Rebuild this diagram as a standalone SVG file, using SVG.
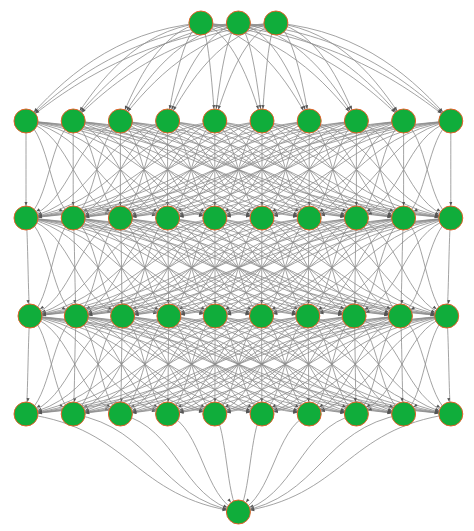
<svg xmlns="http://www.w3.org/2000/svg" width="474" height="531" viewBox="0 0 474 531">
<style>
.e{fill:none;stroke:#8c8c8c;stroke-width:0.8;marker-end:url(#a)}
.n{fill:#10ad3b;stroke:#e4602a;stroke-width:1}
</style>
<defs>
<marker id="a" viewBox="0 -3 21 6" refX="20.5" refY="0" markerWidth="21" markerHeight="6" markerUnits="userSpaceOnUse" orient="auto"><path d="M4.5,-1.5 L8.5,0 L4.5,1.5 z" fill="#555555"/></marker>
</defs>
<rect width="474" height="531" fill="#ffffff"/>
<g id="edges">
<path class="e" d="M200.9 23C113.45 31 60.98 81 26 121"/>
<path class="e" d="M200.9 23C137.05 31 98.74 81 73.2 121"/>
<path class="e" d="M200.9 23C160.65 31 136.5 81 120.4 121"/>
<path class="e" d="M200.9 23C184.25 31 174.26 81 167.6 121"/>
<path class="e" d="M200.9 23C207.85 31 212.02 81 214.8 121"/>
<path class="e" d="M200.9 23C231.45 31 249.78 81 262 121"/>
<path class="e" d="M200.9 23C255.05 31 287.54 81 309.2 121"/>
<path class="e" d="M200.9 23C278.65 31 325.3 81 356.4 121"/>
<path class="e" d="M200.9 23C302.25 31 363.06 81 403.6 121"/>
<path class="e" d="M200.9 23C325.85 31 400.82 81 450.8 121"/>
<path class="e" d="M238.4 23C132.2 31 68.48 81 26 121"/>
<path class="e" d="M238.4 23C155.8 31 106.24 81 73.2 121"/>
<path class="e" d="M238.4 23C179.4 31 144 81 120.4 121"/>
<path class="e" d="M238.4 23C203 31 181.76 81 167.6 121"/>
<path class="e" d="M238.4 23C226.6 31 219.52 81 214.8 121"/>
<path class="e" d="M238.4 23C250.2 31 257.28 81 262 121"/>
<path class="e" d="M238.4 23C273.8 31 295.04 81 309.2 121"/>
<path class="e" d="M238.4 23C297.4 31 332.8 81 356.4 121"/>
<path class="e" d="M238.4 23C321 31 370.56 81 403.6 121"/>
<path class="e" d="M238.4 23C344.6 31 408.32 81 450.8 121"/>
<path class="e" d="M275.9 23C150.95 31 75.98 81 26 121"/>
<path class="e" d="M275.9 23C174.55 31 113.74 81 73.2 121"/>
<path class="e" d="M275.9 23C198.15 31 151.5 81 120.4 121"/>
<path class="e" d="M275.9 23C221.75 31 189.26 81 167.6 121"/>
<path class="e" d="M275.9 23C245.35 31 227.02 81 214.8 121"/>
<path class="e" d="M275.9 23C268.95 31 264.78 81 262 121"/>
<path class="e" d="M275.9 23C292.55 31 302.54 81 309.2 121"/>
<path class="e" d="M275.9 23C316.15 31 340.3 81 356.4 121"/>
<path class="e" d="M275.9 23C339.75 31 378.06 81 403.6 121"/>
<path class="e" d="M275.9 23C363.35 31 415.82 81 450.8 121"/>

<path class="e" d="M26 121C26 136 26 203 26 218"/>
<path class="e" d="M26 121C49.6 136 49.6 203 73.2 218"/>
<path class="e" d="M26 121C73.2 136 73.2 203 120.4 218"/>
<path class="e" d="M26 121C96.8 136 96.8 203 167.6 218"/>
<path class="e" d="M26 121C120.4 136 120.4 203 214.8 218"/>
<path class="e" d="M26 121C144 136 144 203 262 218"/>
<path class="e" d="M26 121C167.6 136 167.6 203 309.2 218"/>
<path class="e" d="M26 121C191.2 136 191.2 203 356.4 218"/>
<path class="e" d="M26 121C214.8 136 214.8 203 403.6 218"/>
<path class="e" d="M26 121C238.4 136 238.4 203 450.8 218"/>
<path class="e" d="M73.2 121C49.6 136 49.6 203 26 218"/>
<path class="e" d="M73.2 121C73.2 136 73.2 203 73.2 218"/>
<path class="e" d="M73.2 121C96.8 136 96.8 203 120.4 218"/>
<path class="e" d="M73.2 121C120.4 136 120.4 203 167.6 218"/>
<path class="e" d="M73.2 121C144 136 144 203 214.8 218"/>
<path class="e" d="M73.2 121C167.6 136 167.6 203 262 218"/>
<path class="e" d="M73.2 121C191.2 136 191.2 203 309.2 218"/>
<path class="e" d="M73.2 121C214.8 136 214.8 203 356.4 218"/>
<path class="e" d="M73.2 121C238.4 136 238.4 203 403.6 218"/>
<path class="e" d="M73.2 121C262 136 262 203 450.8 218"/>
<path class="e" d="M120.4 121C73.2 136 73.2 203 26 218"/>
<path class="e" d="M120.4 121C96.8 136 96.8 203 73.2 218"/>
<path class="e" d="M120.4 121C120.4 136 120.4 203 120.4 218"/>
<path class="e" d="M120.4 121C144 136 144 203 167.6 218"/>
<path class="e" d="M120.4 121C167.6 136 167.6 203 214.8 218"/>
<path class="e" d="M120.4 121C191.2 136 191.2 203 262 218"/>
<path class="e" d="M120.4 121C214.8 136 214.8 203 309.2 218"/>
<path class="e" d="M120.4 121C238.4 136 238.4 203 356.4 218"/>
<path class="e" d="M120.4 121C262 136 262 203 403.6 218"/>
<path class="e" d="M120.4 121C285.6 136 285.6 203 450.8 218"/>
<path class="e" d="M167.6 121C96.8 136 96.8 203 26 218"/>
<path class="e" d="M167.6 121C120.4 136 120.4 203 73.2 218"/>
<path class="e" d="M167.6 121C144 136 144 203 120.4 218"/>
<path class="e" d="M167.6 121C167.6 136 167.6 203 167.6 218"/>
<path class="e" d="M167.6 121C191.2 136 191.2 203 214.8 218"/>
<path class="e" d="M167.6 121C214.8 136 214.8 203 262 218"/>
<path class="e" d="M167.6 121C238.4 136 238.4 203 309.2 218"/>
<path class="e" d="M167.6 121C262 136 262 203 356.4 218"/>
<path class="e" d="M167.6 121C285.6 136 285.6 203 403.6 218"/>
<path class="e" d="M167.6 121C309.2 136 309.2 203 450.8 218"/>
<path class="e" d="M214.8 121C120.4 136 120.4 203 26 218"/>
<path class="e" d="M214.8 121C144 136 144 203 73.2 218"/>
<path class="e" d="M214.8 121C167.6 136 167.6 203 120.4 218"/>
<path class="e" d="M214.8 121C191.2 136 191.2 203 167.6 218"/>
<path class="e" d="M214.8 121C214.8 136 214.8 203 214.8 218"/>
<path class="e" d="M214.8 121C238.4 136 238.4 203 262 218"/>
<path class="e" d="M214.8 121C262 136 262 203 309.2 218"/>
<path class="e" d="M214.8 121C285.6 136 285.6 203 356.4 218"/>
<path class="e" d="M214.8 121C309.2 136 309.2 203 403.6 218"/>
<path class="e" d="M214.8 121C332.8 136 332.8 203 450.8 218"/>
<path class="e" d="M262 121C144 136 144 203 26 218"/>
<path class="e" d="M262 121C167.6 136 167.6 203 73.2 218"/>
<path class="e" d="M262 121C191.2 136 191.2 203 120.4 218"/>
<path class="e" d="M262 121C214.8 136 214.8 203 167.6 218"/>
<path class="e" d="M262 121C238.4 136 238.4 203 214.8 218"/>
<path class="e" d="M262 121C262 136 262 203 262 218"/>
<path class="e" d="M262 121C285.6 136 285.6 203 309.2 218"/>
<path class="e" d="M262 121C309.2 136 309.2 203 356.4 218"/>
<path class="e" d="M262 121C332.8 136 332.8 203 403.6 218"/>
<path class="e" d="M262 121C356.4 136 356.4 203 450.8 218"/>
<path class="e" d="M309.2 121C167.6 136 167.6 203 26 218"/>
<path class="e" d="M309.2 121C191.2 136 191.2 203 73.2 218"/>
<path class="e" d="M309.2 121C214.8 136 214.8 203 120.4 218"/>
<path class="e" d="M309.2 121C238.4 136 238.4 203 167.6 218"/>
<path class="e" d="M309.2 121C262 136 262 203 214.8 218"/>
<path class="e" d="M309.2 121C285.6 136 285.6 203 262 218"/>
<path class="e" d="M309.2 121C309.2 136 309.2 203 309.2 218"/>
<path class="e" d="M309.2 121C332.8 136 332.8 203 356.4 218"/>
<path class="e" d="M309.2 121C356.4 136 356.4 203 403.6 218"/>
<path class="e" d="M309.2 121C380 136 380 203 450.8 218"/>
<path class="e" d="M356.4 121C191.2 136 191.2 203 26 218"/>
<path class="e" d="M356.4 121C214.8 136 214.8 203 73.2 218"/>
<path class="e" d="M356.4 121C238.4 136 238.4 203 120.4 218"/>
<path class="e" d="M356.4 121C262 136 262 203 167.6 218"/>
<path class="e" d="M356.4 121C285.6 136 285.6 203 214.8 218"/>
<path class="e" d="M356.4 121C309.2 136 309.2 203 262 218"/>
<path class="e" d="M356.4 121C332.8 136 332.8 203 309.2 218"/>
<path class="e" d="M356.4 121C356.4 136 356.4 203 356.4 218"/>
<path class="e" d="M356.4 121C380 136 380 203 403.6 218"/>
<path class="e" d="M356.4 121C403.6 136 403.6 203 450.8 218"/>
<path class="e" d="M403.6 121C214.8 136 214.8 203 26 218"/>
<path class="e" d="M403.6 121C238.4 136 238.4 203 73.2 218"/>
<path class="e" d="M403.6 121C262 136 262 203 120.4 218"/>
<path class="e" d="M403.6 121C285.6 136 285.6 203 167.6 218"/>
<path class="e" d="M403.6 121C309.2 136 309.2 203 214.8 218"/>
<path class="e" d="M403.6 121C332.8 136 332.8 203 262 218"/>
<path class="e" d="M403.6 121C356.4 136 356.4 203 309.2 218"/>
<path class="e" d="M403.6 121C380 136 380 203 356.4 218"/>
<path class="e" d="M403.6 121C403.6 136 403.6 203 403.6 218"/>
<path class="e" d="M403.6 121C427.2 136 427.2 203 450.8 218"/>
<path class="e" d="M450.8 121C238.4 136 238.4 203 26 218"/>
<path class="e" d="M450.8 121C262 136 262 203 73.2 218"/>
<path class="e" d="M450.8 121C285.6 136 285.6 203 120.4 218"/>
<path class="e" d="M450.8 121C309.2 136 309.2 203 167.6 218"/>
<path class="e" d="M450.8 121C332.8 136 332.8 203 214.8 218"/>
<path class="e" d="M450.8 121C356.4 136 356.4 203 262 218"/>
<path class="e" d="M450.8 121C380 136 380 203 309.2 218"/>
<path class="e" d="M450.8 121C403.6 136 403.6 203 356.4 218"/>
<path class="e" d="M450.8 121C427.2 136 427.2 203 403.6 218"/>
<path class="e" d="M450.8 121C450.8 136 450.8 203 450.8 218"/>

<path class="e" d="M26 218C28 233 28 301 30 316"/>
<path class="e" d="M26 218C51.15 233 51.15 301 76.3 316"/>
<path class="e" d="M26 218C74.3 233 74.3 301 122.6 316"/>
<path class="e" d="M26 218C97.45 233 97.45 301 168.9 316"/>
<path class="e" d="M26 218C120.6 233 120.6 301 215.2 316"/>
<path class="e" d="M26 218C143.75 233 143.75 301 261.5 316"/>
<path class="e" d="M26 218C166.9 233 166.9 301 307.8 316"/>
<path class="e" d="M26 218C190.05 233 190.05 301 354.1 316"/>
<path class="e" d="M26 218C213.2 233 213.2 301 400.4 316"/>
<path class="e" d="M26 218C236.35 233 236.35 301 446.7 316"/>
<path class="e" d="M73.2 218C51.6 233 51.6 301 30 316"/>
<path class="e" d="M73.2 218C74.75 233 74.75 301 76.3 316"/>
<path class="e" d="M73.2 218C97.9 233 97.9 301 122.6 316"/>
<path class="e" d="M73.2 218C121.05 233 121.05 301 168.9 316"/>
<path class="e" d="M73.2 218C144.2 233 144.2 301 215.2 316"/>
<path class="e" d="M73.2 218C167.35 233 167.35 301 261.5 316"/>
<path class="e" d="M73.2 218C190.5 233 190.5 301 307.8 316"/>
<path class="e" d="M73.2 218C213.65 233 213.65 301 354.1 316"/>
<path class="e" d="M73.2 218C236.8 233 236.8 301 400.4 316"/>
<path class="e" d="M73.2 218C259.95 233 259.95 301 446.7 316"/>
<path class="e" d="M120.4 218C75.2 233 75.2 301 30 316"/>
<path class="e" d="M120.4 218C98.35 233 98.35 301 76.3 316"/>
<path class="e" d="M120.4 218C121.5 233 121.5 301 122.6 316"/>
<path class="e" d="M120.4 218C144.65 233 144.65 301 168.9 316"/>
<path class="e" d="M120.4 218C167.8 233 167.8 301 215.2 316"/>
<path class="e" d="M120.4 218C190.95 233 190.95 301 261.5 316"/>
<path class="e" d="M120.4 218C214.1 233 214.1 301 307.8 316"/>
<path class="e" d="M120.4 218C237.25 233 237.25 301 354.1 316"/>
<path class="e" d="M120.4 218C260.4 233 260.4 301 400.4 316"/>
<path class="e" d="M120.4 218C283.55 233 283.55 301 446.7 316"/>
<path class="e" d="M167.6 218C98.8 233 98.8 301 30 316"/>
<path class="e" d="M167.6 218C121.95 233 121.95 301 76.3 316"/>
<path class="e" d="M167.6 218C145.1 233 145.1 301 122.6 316"/>
<path class="e" d="M167.6 218C168.25 233 168.25 301 168.9 316"/>
<path class="e" d="M167.6 218C191.4 233 191.4 301 215.2 316"/>
<path class="e" d="M167.6 218C214.55 233 214.55 301 261.5 316"/>
<path class="e" d="M167.6 218C237.7 233 237.7 301 307.8 316"/>
<path class="e" d="M167.6 218C260.85 233 260.85 301 354.1 316"/>
<path class="e" d="M167.6 218C284 233 284 301 400.4 316"/>
<path class="e" d="M167.6 218C307.15 233 307.15 301 446.7 316"/>
<path class="e" d="M214.8 218C122.4 233 122.4 301 30 316"/>
<path class="e" d="M214.8 218C145.55 233 145.55 301 76.3 316"/>
<path class="e" d="M214.8 218C168.7 233 168.7 301 122.6 316"/>
<path class="e" d="M214.8 218C191.85 233 191.85 301 168.9 316"/>
<path class="e" d="M214.8 218C215 233 215 301 215.2 316"/>
<path class="e" d="M214.8 218C238.15 233 238.15 301 261.5 316"/>
<path class="e" d="M214.8 218C261.3 233 261.3 301 307.8 316"/>
<path class="e" d="M214.8 218C284.45 233 284.45 301 354.1 316"/>
<path class="e" d="M214.8 218C307.6 233 307.6 301 400.4 316"/>
<path class="e" d="M214.8 218C330.75 233 330.75 301 446.7 316"/>
<path class="e" d="M262 218C146 233 146 301 30 316"/>
<path class="e" d="M262 218C169.15 233 169.15 301 76.3 316"/>
<path class="e" d="M262 218C192.3 233 192.3 301 122.6 316"/>
<path class="e" d="M262 218C215.45 233 215.45 301 168.9 316"/>
<path class="e" d="M262 218C238.6 233 238.6 301 215.2 316"/>
<path class="e" d="M262 218C261.75 233 261.75 301 261.5 316"/>
<path class="e" d="M262 218C284.9 233 284.9 301 307.8 316"/>
<path class="e" d="M262 218C308.05 233 308.05 301 354.1 316"/>
<path class="e" d="M262 218C331.2 233 331.2 301 400.4 316"/>
<path class="e" d="M262 218C354.35 233 354.35 301 446.7 316"/>
<path class="e" d="M309.2 218C169.6 233 169.6 301 30 316"/>
<path class="e" d="M309.2 218C192.75 233 192.75 301 76.3 316"/>
<path class="e" d="M309.2 218C215.9 233 215.9 301 122.6 316"/>
<path class="e" d="M309.2 218C239.05 233 239.05 301 168.9 316"/>
<path class="e" d="M309.2 218C262.2 233 262.2 301 215.2 316"/>
<path class="e" d="M309.2 218C285.35 233 285.35 301 261.5 316"/>
<path class="e" d="M309.2 218C308.5 233 308.5 301 307.8 316"/>
<path class="e" d="M309.2 218C331.65 233 331.65 301 354.1 316"/>
<path class="e" d="M309.2 218C354.8 233 354.8 301 400.4 316"/>
<path class="e" d="M309.2 218C377.95 233 377.95 301 446.7 316"/>
<path class="e" d="M356.4 218C193.2 233 193.2 301 30 316"/>
<path class="e" d="M356.4 218C216.35 233 216.35 301 76.3 316"/>
<path class="e" d="M356.4 218C239.5 233 239.5 301 122.6 316"/>
<path class="e" d="M356.4 218C262.65 233 262.65 301 168.9 316"/>
<path class="e" d="M356.4 218C285.8 233 285.8 301 215.2 316"/>
<path class="e" d="M356.4 218C308.95 233 308.95 301 261.5 316"/>
<path class="e" d="M356.4 218C332.1 233 332.1 301 307.8 316"/>
<path class="e" d="M356.4 218C355.25 233 355.25 301 354.1 316"/>
<path class="e" d="M356.4 218C378.4 233 378.4 301 400.4 316"/>
<path class="e" d="M356.4 218C401.55 233 401.55 301 446.7 316"/>
<path class="e" d="M403.6 218C216.8 233 216.8 301 30 316"/>
<path class="e" d="M403.6 218C239.95 233 239.95 301 76.3 316"/>
<path class="e" d="M403.6 218C263.1 233 263.1 301 122.6 316"/>
<path class="e" d="M403.6 218C286.25 233 286.25 301 168.9 316"/>
<path class="e" d="M403.6 218C309.4 233 309.4 301 215.2 316"/>
<path class="e" d="M403.6 218C332.55 233 332.55 301 261.5 316"/>
<path class="e" d="M403.6 218C355.7 233 355.7 301 307.8 316"/>
<path class="e" d="M403.6 218C378.85 233 378.85 301 354.1 316"/>
<path class="e" d="M403.6 218C402 233 402 301 400.4 316"/>
<path class="e" d="M403.6 218C425.15 233 425.15 301 446.7 316"/>
<path class="e" d="M450.8 218C240.4 233 240.4 301 30 316"/>
<path class="e" d="M450.8 218C263.55 233 263.55 301 76.3 316"/>
<path class="e" d="M450.8 218C286.7 233 286.7 301 122.6 316"/>
<path class="e" d="M450.8 218C309.85 233 309.85 301 168.9 316"/>
<path class="e" d="M450.8 218C333 233 333 301 215.2 316"/>
<path class="e" d="M450.8 218C356.15 233 356.15 301 261.5 316"/>
<path class="e" d="M450.8 218C379.3 233 379.3 301 307.8 316"/>
<path class="e" d="M450.8 218C402.45 233 402.45 301 354.1 316"/>
<path class="e" d="M450.8 218C425.6 233 425.6 301 400.4 316"/>
<path class="e" d="M450.8 218C448.75 233 448.75 301 446.7 316"/>

<path class="e" d="M30 316C28 331 28 399 26 414"/>
<path class="e" d="M30 316C51.6 331 51.6 399 73.2 414"/>
<path class="e" d="M30 316C75.2 331 75.2 399 120.4 414"/>
<path class="e" d="M30 316C98.8 331 98.8 399 167.6 414"/>
<path class="e" d="M30 316C122.4 331 122.4 399 214.8 414"/>
<path class="e" d="M30 316C146 331 146 399 262 414"/>
<path class="e" d="M30 316C169.6 331 169.6 399 309.2 414"/>
<path class="e" d="M30 316C193.2 331 193.2 399 356.4 414"/>
<path class="e" d="M30 316C216.8 331 216.8 399 403.6 414"/>
<path class="e" d="M30 316C240.4 331 240.4 399 450.8 414"/>
<path class="e" d="M76.3 316C51.15 331 51.15 399 26 414"/>
<path class="e" d="M76.3 316C74.75 331 74.75 399 73.2 414"/>
<path class="e" d="M76.3 316C98.35 331 98.35 399 120.4 414"/>
<path class="e" d="M76.3 316C121.95 331 121.95 399 167.6 414"/>
<path class="e" d="M76.3 316C145.55 331 145.55 399 214.8 414"/>
<path class="e" d="M76.3 316C169.15 331 169.15 399 262 414"/>
<path class="e" d="M76.3 316C192.75 331 192.75 399 309.2 414"/>
<path class="e" d="M76.3 316C216.35 331 216.35 399 356.4 414"/>
<path class="e" d="M76.3 316C239.95 331 239.95 399 403.6 414"/>
<path class="e" d="M76.3 316C263.55 331 263.55 399 450.8 414"/>
<path class="e" d="M122.6 316C74.3 331 74.3 399 26 414"/>
<path class="e" d="M122.6 316C97.9 331 97.9 399 73.2 414"/>
<path class="e" d="M122.6 316C121.5 331 121.5 399 120.4 414"/>
<path class="e" d="M122.6 316C145.1 331 145.1 399 167.6 414"/>
<path class="e" d="M122.6 316C168.7 331 168.7 399 214.8 414"/>
<path class="e" d="M122.6 316C192.3 331 192.3 399 262 414"/>
<path class="e" d="M122.6 316C215.9 331 215.9 399 309.2 414"/>
<path class="e" d="M122.6 316C239.5 331 239.5 399 356.4 414"/>
<path class="e" d="M122.6 316C263.1 331 263.1 399 403.6 414"/>
<path class="e" d="M122.6 316C286.7 331 286.7 399 450.8 414"/>
<path class="e" d="M168.9 316C97.45 331 97.45 399 26 414"/>
<path class="e" d="M168.9 316C121.05 331 121.05 399 73.2 414"/>
<path class="e" d="M168.9 316C144.65 331 144.65 399 120.4 414"/>
<path class="e" d="M168.9 316C168.25 331 168.25 399 167.6 414"/>
<path class="e" d="M168.9 316C191.85 331 191.85 399 214.8 414"/>
<path class="e" d="M168.9 316C215.45 331 215.45 399 262 414"/>
<path class="e" d="M168.9 316C239.05 331 239.05 399 309.2 414"/>
<path class="e" d="M168.9 316C262.65 331 262.65 399 356.4 414"/>
<path class="e" d="M168.9 316C286.25 331 286.25 399 403.6 414"/>
<path class="e" d="M168.9 316C309.85 331 309.85 399 450.8 414"/>
<path class="e" d="M215.2 316C120.6 331 120.6 399 26 414"/>
<path class="e" d="M215.2 316C144.2 331 144.2 399 73.2 414"/>
<path class="e" d="M215.2 316C167.8 331 167.8 399 120.4 414"/>
<path class="e" d="M215.2 316C191.4 331 191.4 399 167.6 414"/>
<path class="e" d="M215.2 316C215 331 215 399 214.8 414"/>
<path class="e" d="M215.2 316C238.6 331 238.6 399 262 414"/>
<path class="e" d="M215.2 316C262.2 331 262.2 399 309.2 414"/>
<path class="e" d="M215.2 316C285.8 331 285.8 399 356.4 414"/>
<path class="e" d="M215.2 316C309.4 331 309.4 399 403.6 414"/>
<path class="e" d="M215.2 316C333 331 333 399 450.8 414"/>
<path class="e" d="M261.5 316C143.75 331 143.75 399 26 414"/>
<path class="e" d="M261.5 316C167.35 331 167.35 399 73.2 414"/>
<path class="e" d="M261.5 316C190.95 331 190.95 399 120.4 414"/>
<path class="e" d="M261.5 316C214.55 331 214.55 399 167.6 414"/>
<path class="e" d="M261.5 316C238.15 331 238.15 399 214.8 414"/>
<path class="e" d="M261.5 316C261.75 331 261.75 399 262 414"/>
<path class="e" d="M261.5 316C285.35 331 285.35 399 309.2 414"/>
<path class="e" d="M261.5 316C308.95 331 308.95 399 356.4 414"/>
<path class="e" d="M261.5 316C332.55 331 332.55 399 403.6 414"/>
<path class="e" d="M261.5 316C356.15 331 356.15 399 450.8 414"/>
<path class="e" d="M307.8 316C166.9 331 166.9 399 26 414"/>
<path class="e" d="M307.8 316C190.5 331 190.5 399 73.2 414"/>
<path class="e" d="M307.8 316C214.1 331 214.1 399 120.4 414"/>
<path class="e" d="M307.8 316C237.7 331 237.7 399 167.6 414"/>
<path class="e" d="M307.8 316C261.3 331 261.3 399 214.8 414"/>
<path class="e" d="M307.8 316C284.9 331 284.9 399 262 414"/>
<path class="e" d="M307.8 316C308.5 331 308.5 399 309.2 414"/>
<path class="e" d="M307.8 316C332.1 331 332.1 399 356.4 414"/>
<path class="e" d="M307.8 316C355.7 331 355.7 399 403.6 414"/>
<path class="e" d="M307.8 316C379.3 331 379.3 399 450.8 414"/>
<path class="e" d="M354.1 316C190.05 331 190.05 399 26 414"/>
<path class="e" d="M354.1 316C213.65 331 213.65 399 73.2 414"/>
<path class="e" d="M354.1 316C237.25 331 237.25 399 120.4 414"/>
<path class="e" d="M354.1 316C260.85 331 260.85 399 167.6 414"/>
<path class="e" d="M354.1 316C284.45 331 284.45 399 214.8 414"/>
<path class="e" d="M354.1 316C308.05 331 308.05 399 262 414"/>
<path class="e" d="M354.1 316C331.65 331 331.65 399 309.2 414"/>
<path class="e" d="M354.1 316C355.25 331 355.25 399 356.4 414"/>
<path class="e" d="M354.1 316C378.85 331 378.85 399 403.6 414"/>
<path class="e" d="M354.1 316C402.45 331 402.45 399 450.8 414"/>
<path class="e" d="M400.4 316C213.2 331 213.2 399 26 414"/>
<path class="e" d="M400.4 316C236.8 331 236.8 399 73.2 414"/>
<path class="e" d="M400.4 316C260.4 331 260.4 399 120.4 414"/>
<path class="e" d="M400.4 316C284 331 284 399 167.6 414"/>
<path class="e" d="M400.4 316C307.6 331 307.6 399 214.8 414"/>
<path class="e" d="M400.4 316C331.2 331 331.2 399 262 414"/>
<path class="e" d="M400.4 316C354.8 331 354.8 399 309.2 414"/>
<path class="e" d="M400.4 316C378.4 331 378.4 399 356.4 414"/>
<path class="e" d="M400.4 316C402 331 402 399 403.6 414"/>
<path class="e" d="M400.4 316C425.6 331 425.6 399 450.8 414"/>
<path class="e" d="M446.7 316C236.35 331 236.35 399 26 414"/>
<path class="e" d="M446.7 316C259.95 331 259.95 399 73.2 414"/>
<path class="e" d="M446.7 316C283.55 331 283.55 399 120.4 414"/>
<path class="e" d="M446.7 316C307.15 331 307.15 399 167.6 414"/>
<path class="e" d="M446.7 316C330.75 331 330.75 399 214.8 414"/>
<path class="e" d="M446.7 316C354.35 331 354.35 399 262 414"/>
<path class="e" d="M446.7 316C377.95 331 377.95 399 309.2 414"/>
<path class="e" d="M446.7 316C401.55 331 401.55 399 356.4 414"/>
<path class="e" d="M446.7 316C425.15 331 425.15 399 403.6 414"/>
<path class="e" d="M446.7 316C448.75 331 448.75 399 450.8 414"/>

<path class="e" d="M26 414C132.2 429 132.2 497 238.4 512"/>
<path class="e" d="M73.2 414C155.8 429 155.8 497 238.4 512"/>
<path class="e" d="M120.4 414C179.4 429 179.4 497 238.4 512"/>
<path class="e" d="M167.6 414C203 429 203 497 238.4 512"/>
<path class="e" d="M214.8 414C226.6 429 226.6 497 238.4 512"/>
<path class="e" d="M262 414C250.2 429 250.2 497 238.4 512"/>
<path class="e" d="M309.2 414C273.8 429 273.8 497 238.4 512"/>
<path class="e" d="M356.4 414C297.4 429 297.4 497 238.4 512"/>
<path class="e" d="M403.6 414C321 429 321 497 238.4 512"/>
<path class="e" d="M450.8 414C344.6 429 344.6 497 238.4 512"/>
</g>

<g id="in0"><circle class="n" cx="200.9" cy="23" r="12"/></g>
<g id="in1"><circle class="n" cx="238.4" cy="23" r="12"/></g>
<g id="in2"><circle class="n" cx="275.9" cy="23" r="12"/></g>

<g id="h1_0"><circle class="n" cx="26" cy="121" r="12"/></g>
<g id="h1_1"><circle class="n" cx="73.2" cy="121" r="12"/></g>
<g id="h1_2"><circle class="n" cx="120.4" cy="121" r="12"/></g>
<g id="h1_3"><circle class="n" cx="167.6" cy="121" r="12"/></g>
<g id="h1_4"><circle class="n" cx="214.8" cy="121" r="12"/></g>
<g id="h1_5"><circle class="n" cx="262" cy="121" r="12"/></g>
<g id="h1_6"><circle class="n" cx="309.2" cy="121" r="12"/></g>
<g id="h1_7"><circle class="n" cx="356.4" cy="121" r="12"/></g>
<g id="h1_8"><circle class="n" cx="403.6" cy="121" r="12"/></g>
<g id="h1_9"><circle class="n" cx="450.8" cy="121" r="12"/></g>

<g id="h2_0"><circle class="n" cx="26" cy="218" r="12"/></g>
<g id="h2_1"><circle class="n" cx="73.2" cy="218" r="12"/></g>
<g id="h2_2"><circle class="n" cx="120.4" cy="218" r="12"/></g>
<g id="h2_3"><circle class="n" cx="167.6" cy="218" r="12"/></g>
<g id="h2_4"><circle class="n" cx="214.8" cy="218" r="12"/></g>
<g id="h2_5"><circle class="n" cx="262" cy="218" r="12"/></g>
<g id="h2_6"><circle class="n" cx="309.2" cy="218" r="12"/></g>
<g id="h2_7"><circle class="n" cx="356.4" cy="218" r="12"/></g>
<g id="h2_8"><circle class="n" cx="403.6" cy="218" r="12"/></g>
<g id="h2_9"><circle class="n" cx="450.8" cy="218" r="12"/></g>

<g id="h3_0"><circle class="n" cx="30" cy="316" r="12"/></g>
<g id="h3_1"><circle class="n" cx="76.3" cy="316" r="12"/></g>
<g id="h3_2"><circle class="n" cx="122.6" cy="316" r="12"/></g>
<g id="h3_3"><circle class="n" cx="168.9" cy="316" r="12"/></g>
<g id="h3_4"><circle class="n" cx="215.2" cy="316" r="12"/></g>
<g id="h3_5"><circle class="n" cx="261.5" cy="316" r="12"/></g>
<g id="h3_6"><circle class="n" cx="307.8" cy="316" r="12"/></g>
<g id="h3_7"><circle class="n" cx="354.1" cy="316" r="12"/></g>
<g id="h3_8"><circle class="n" cx="400.4" cy="316" r="12"/></g>
<g id="h3_9"><circle class="n" cx="446.7" cy="316" r="12"/></g>

<g id="h4_0"><circle class="n" cx="26" cy="414" r="12"/></g>
<g id="h4_1"><circle class="n" cx="73.2" cy="414" r="12"/></g>
<g id="h4_2"><circle class="n" cx="120.4" cy="414" r="12"/></g>
<g id="h4_3"><circle class="n" cx="167.6" cy="414" r="12"/></g>
<g id="h4_4"><circle class="n" cx="214.8" cy="414" r="12"/></g>
<g id="h4_5"><circle class="n" cx="262" cy="414" r="12"/></g>
<g id="h4_6"><circle class="n" cx="309.2" cy="414" r="12"/></g>
<g id="h4_7"><circle class="n" cx="356.4" cy="414" r="12"/></g>
<g id="h4_8"><circle class="n" cx="403.6" cy="414" r="12"/></g>
<g id="h4_9"><circle class="n" cx="450.8" cy="414" r="12"/></g>

<g id="out"><circle class="n" cx="238.4" cy="512" r="12"/></g>
</svg>
